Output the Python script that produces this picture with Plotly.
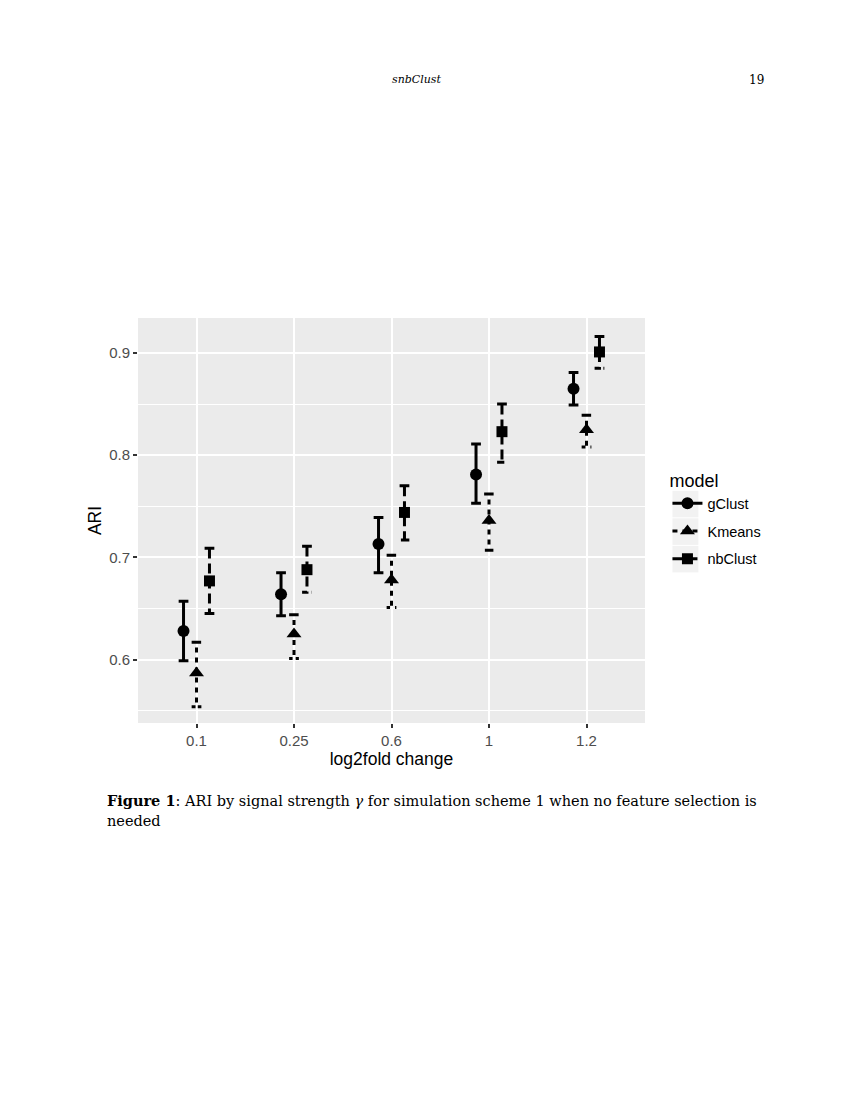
import plotly.graph_objects as go

# data
fold_labels = ["0.1", "0.25", "0.6", "1", "1.2"]
models = ["gClust", "Kmeans", "nbClust"]

ari_mean = {
    "gClust": [0.628, 0.664, 0.713, 0.781, 0.865],
    "Kmeans": [0.587, 0.625, 0.678, 0.736, 0.825],
    "nbClust": [0.677, 0.688, 0.744, 0.823, 0.901],
}
ari_low = {
    "gClust": [0.599, 0.643, 0.685, 0.753, 0.849],
    "Kmeans": [0.554, 0.601, 0.651, 0.707, 0.808],
    "nbClust": [0.645, 0.666, 0.717, 0.793, 0.885],
}
ari_high = {
    "gClust": [0.657, 0.685, 0.739, 0.811, 0.881],
    "Kmeans": [0.617, 0.644, 0.702, 0.762, 0.839],
    "nbClust": [0.709, 0.711, 0.770, 0.850, 0.916],
}

# styling
dodge = {"gClust": -0.133, "Kmeans": 0.0, "nbClust": 0.133}
symbols = {"gClust": "circle", "Kmeans": "triangle-up", "nbClust": "square"}
msize = {"gClust": 12, "Kmeans": 13, "nbClust": 11}
dashes = {"gClust": "solid", "Kmeans": "5px,5px", "nbClust": "10px,5px"}
cap = 0.05

# the page body adds an 8px margin, so the figure is a bit smaller than the window
OFF = 8
FW, FH = 850 - 2 * OFF, 1100 - 2 * OFF
# plot area in page pixels
L, R, T, B = 137.5, 645.5, 318.3, 723.0


def px(x, y):
    return (x - L) / (R - L), (B - y) / (B - T)


fig = go.Figure()

for m in models:
    ex, ey = [], []
    mx, my = [], []
    for i in range(len(fold_labels)):
        xc = i + dodge[m]
        lo, hi = ari_low[m][i], ari_high[m][i]
        # single path like ggplot's errorbar so the dash runs continuously
        ex += [xc - cap, xc + cap, xc, xc, xc - cap, xc + cap, None]
        ey += [hi, hi, hi, lo, lo, lo, None]
        mx += [xc, None]
        my += [ari_mean[m][i], None]
    fig.add_trace(go.Scatter(
        x=ex, y=ey, mode="lines",
        line=dict(color="black", width=3, dash=dashes[m]),
        showlegend=False, hoverinfo="skip",
    ))
    fig.add_trace(go.Scatter(
        x=mx, y=my, mode="lines+markers", name=m, legendgroup=m,
        marker=dict(symbol=symbols[m], size=msize[m], color="black"),
        line=dict(color="black", width=3, dash=dashes[m]),
        connectgaps=False,
    ))

tick_font = dict(family="Liberation Sans", size=15, color="#4D4D4D")
title_font = dict(family="Liberation Sans", size=17.5, color="black")

fig.update_xaxes(
    range=[-0.6, 4.6],
    tickvals=list(range(len(fold_labels))),
    ticktext=fold_labels,
    showgrid=True, gridcolor="white", gridwidth=2,
    zeroline=False,
    ticks="outside", ticklen=4, tickcolor="#333333", tickwidth=1.5,
    tickfont=tick_font,
    title=dict(text="log2fold change", standoff=4, font=title_font),
)
fig.update_yaxes(
    range=[0.538, 0.9342],
    tickvals=[0.6, 0.7, 0.8, 0.9],
    showgrid=True, gridcolor="white", gridwidth=2,
    minor=dict(tickvals=[0.55, 0.65, 0.75, 0.85], showgrid=True,
               gridcolor="white", gridwidth=0.8),
    zeroline=False,
    ticks="outside", ticklen=4, tickcolor="#333333", tickwidth=1.5,
    tickfont=tick_font,
    title=dict(text="ARI", standoff=3, font=title_font),
)

# grey legend key boxes
for k in range(3):
    x0, y0 = px(673, 491 + k * 27.5)
    x1, y1 = px(699, 491 + (k + 1) * 27.5 - 1)
    fig.add_shape(type="rect", xref="paper", yref="paper",
                  x0=x0, x1=x1, y0=y0, y1=y1,
                  fillcolor="#F2F2F2", line=dict(width=0), layer="below")

lx, ly = px(668, 464)
fig.update_layout(
    width=FW, height=FH,
    margin=dict(l=L - OFF, r=FW - (R - OFF), t=T - OFF, b=FH - (B - OFF)),
    paper_bgcolor="white",
    plot_bgcolor="#EBEBEB",
    showlegend=True,
    legend=dict(
        x=lx, y=ly, xanchor="left", yanchor="top",
        title=dict(text="model", font=dict(family="Liberation Sans", size=18, color="black")),
        font=dict(family="Liberation Sans", size=14.5, color="black"),
        bgcolor="rgba(0,0,0,0)", itemwidth=30, tracegroupgap=6,
    ),
)

# page text around the figure
serif = "DejaVu Serif"
hx, hy = px(417, 80)
fig.add_annotation(text="<i>snbClust</i>", x=hx, y=hy, xref="paper", yref="paper",
                   yanchor="middle", showarrow=False,
                   font=dict(family=serif, size=11, color="black"))
nx, ny = px(767, 80)
fig.add_annotation(text="19", x=nx, y=ny, xref="paper", yref="paper",
                   xanchor="right", yanchor="middle", showarrow=False,
                   font=dict(family=serif, size=12, color="black"))
cx, cy = px(104, 800)
fig.add_annotation(
    text="<b>Figure 1</b>: ARI by signal strength <i>γ</i> for simulation scheme 1 when no feature selection is",
    x=cx, y=cy, xref="paper", yref="paper", xanchor="left", yanchor="middle",
    showarrow=False, font=dict(family=serif, size=14.5, color="black"))
cx2, cy2 = px(104, 821)
fig.add_annotation(text="needed", x=cx2, y=cy2, xref="paper", yref="paper",
                   xanchor="left", yanchor="middle", showarrow=False,
                   font=dict(family=serif, size=14.5, color="black"))

fig.write_html("out.html")
